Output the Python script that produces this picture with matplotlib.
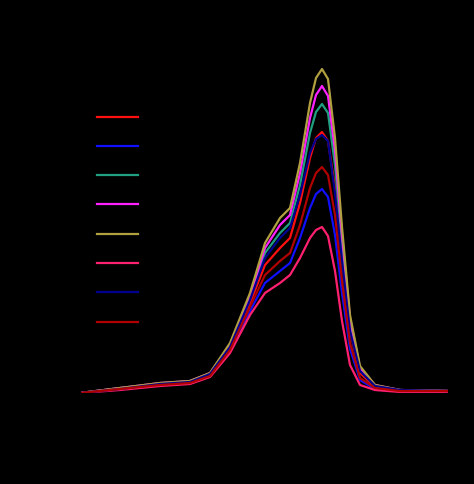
import matplotlib
matplotlib.use("Agg")
import matplotlib.pyplot as plt

x = [80,120,160,190,210,230,250,265,280,290,300,310,316,322,328,335,342,350,360,375,400,448]
labels = ["S1","S2","S3","S4","S5","S6","S7","S8"]
colors = ["#ff1010","#1010ff","#20a080","#ff20ff","#b0a040","#ff2070","#000090","#b00000"]
s1 = [0,4,9,11,18,45,90,128,145,155,190,235,255,261,252,205,135,62,20,6,2,2]
s2 = [0,4,8,10,17,42,82,110,122,130,155,185,199,204,196,158,100,44,13,4,2,2]
s3 = [0,5,9,12,19,47,95,140,160,170,208,260,281,289,280,228,150,70,24,7,3,2]
s4 = [0,5,10,12,20,48,97,145,168,178,220,275,298,307,297,242,158,74,25,8,3,2]
s5 = [0,5,10,12,20,50,100,150,175,185,230,290,315,324,314,255,166,78,27,8,3,2]
s6 = [0,3,7,9,16,40,78,100,110,118,135,155,163,166,157,122,72,28,8,3,1,1]
s7 = [0,4,9,11,19,46,93,135,155,165,198,240,254,258,252,200,132,62,22,7,3,2]
s8 = [0,4,8,10,17,43,86,118,132,140,168,205,220,226,218,178,112,50,15,5,2,2]
series = [s1,s2,s3,s4,s5,s6,s7,s8]

fig = plt.figure(figsize=(4.74,4.85), dpi=100, facecolor="black")
ax = fig.add_axes([80/474, 91/485, 368/474, 340/485], facecolor="black")
for ys, c, l in zip(series, colors, labels):
    ax.plot(x, ys, color=c, lw=1.6, label=l)
ax.set_xlim(80,448)
ax.set_ylim(0,340)
for sp in ax.spines.values():
    sp.set_color("black")
ax.tick_params(colors="black", labelcolor="black")
leg = ax.legend(loc="upper left", bbox_to_anchor=(84/474, 1-99/485), bbox_transform=fig.transFigure,
                frameon=False, handlelength=3, labelspacing=1.1, fontsize=10)
for t in leg.get_texts():
    t.set_color("black")
fig.savefig("out.png", dpi=100, facecolor="black")
